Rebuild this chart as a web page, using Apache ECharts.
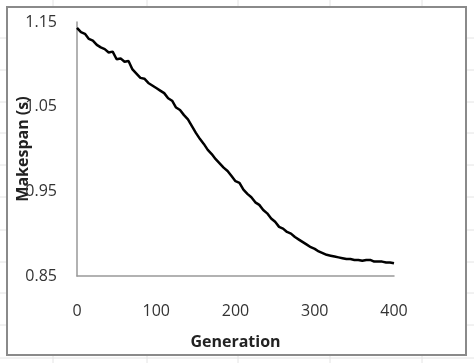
<!DOCTYPE html>
<html><head><meta charset="utf-8">
<script src="https://cdn.jsdelivr.net/npm/echarts@6/dist/echarts.min.js"></script>
<style>html,body{margin:0;padding:0;background:#fff}#c{width:474px;height:363px}</style>
</head><body><div id="c"></div>
<script>
const generations = [0,5,10,15,20,25,30,35,40,45,50,55,60,65,70,75,80,85,90,95,100,105,110,115,120,125,130,135,140,145,150,155,160,165,170,175,180,185,190,195,200,205,210,215,220,225,230,235,240,245,250,255,260,265,270,275,280,285,290,295,300,305,310,315,320,325,330,335,340,345,350,355,360,365,370,375,380,385,390,395,400];
const makespan = [1.143,1.138,1.136,1.130,1.128,1.123,1.120,1.118,1.114,1.115,1.106,1.107,1.103,1.104,1.094,1.089,1.084,1.083,1.078,1.075,1.072,1.069,1.066,1.060,1.057,1.049,1.046,1.040,1.035,1.027,1.019,1.012,1.006,0.999,0.994,0.988,0.983,0.978,0.974,0.968,0.962,0.960,0.952,0.947,0.943,0.937,0.934,0.928,0.924,0.918,0.914,0.908,0.906,0.902,0.900,0.896,0.893,0.890,0.887,0.884,0.882,0.879,0.877,0.875,0.874,0.873,0.872,0.871,0.870,0.870,0.869,0.869,0.868,0.869,0.869,0.867,0.867,0.867,0.866,0.866,0.865];
const xTicks = [0,100,200,300,400];
const yTicks = [0.85,0.95,1.05,1.15];

const chart = echarts.init(document.getElementById('c'), null, {renderer:'canvas'});
const bgLines = [];
[53,147,238,330,422].forEach(x=>bgLines.push({type:'line',shape:{x1:x,y1:0,x2:x,y2:363},style:{stroke:'#e4e4e4',lineWidth:1},z:-10}));
[38,70,102,133,165,197,230,262,293,325,358].forEach(y=>bgLines.push({type:'line',shape:{x1:0,y1:y,x2:474,y2:y},style:{stroke:'#e4e4e4',lineWidth:1},z:-10}));
chart.setOption({
  backgroundColor:'#fff',
  animation:false,
  graphic: bgLines.concat([
    {type:'rect',shape:{x:7,y:7,width:459,height:348},style:{fill:'#fff',stroke:'#8a8a8a',lineWidth:2},z:-5}
  ]),
  grid:{left:77,right:80,top:22,bottom:87,containLabel:false,outerBoundsMode:'none'},
  xAxis:{type:'value',min:0,max:400,interval:100,
    name:'Generation',nameLocation:'middle',nameGap:58,nameMoveOverlap:false,
    nameTextStyle:{fontFamily:'Open Sans',fontWeight:'bold',fontSize:16,color:'#222'},
    axisLine:{lineStyle:{color:'#999',width:1.5}},axisTick:{show:false},splitLine:{show:false},
    axisLabel:{margin:27,fontFamily:'Open Sans',fontSize:16,color:'#333'}},
  yAxis:{type:'value',min:0.85,max:1.15,interval:0.1,
    name:'Makespan (s)',nameLocation:'middle',nameGap:46,nameMoveOverlap:false,
    nameTextStyle:{fontFamily:'Open Sans',fontWeight:'bold',fontSize:16,color:'#222'},
    axisLine:{show:true,lineStyle:{color:'#999',width:1.5}},axisTick:{show:false},splitLine:{show:false},
    axisLabel:{margin:20,fontFamily:'Open Sans',fontSize:16,color:'#333',formatter:v=>v.toFixed(2)}},
  series:[{type:'line',data:generations.map((g,i)=>[g,makespan[i]]),showSymbol:false,
    lineStyle:{color:'#000',width:2.5},silent:true}]
});
</script></body></html>
